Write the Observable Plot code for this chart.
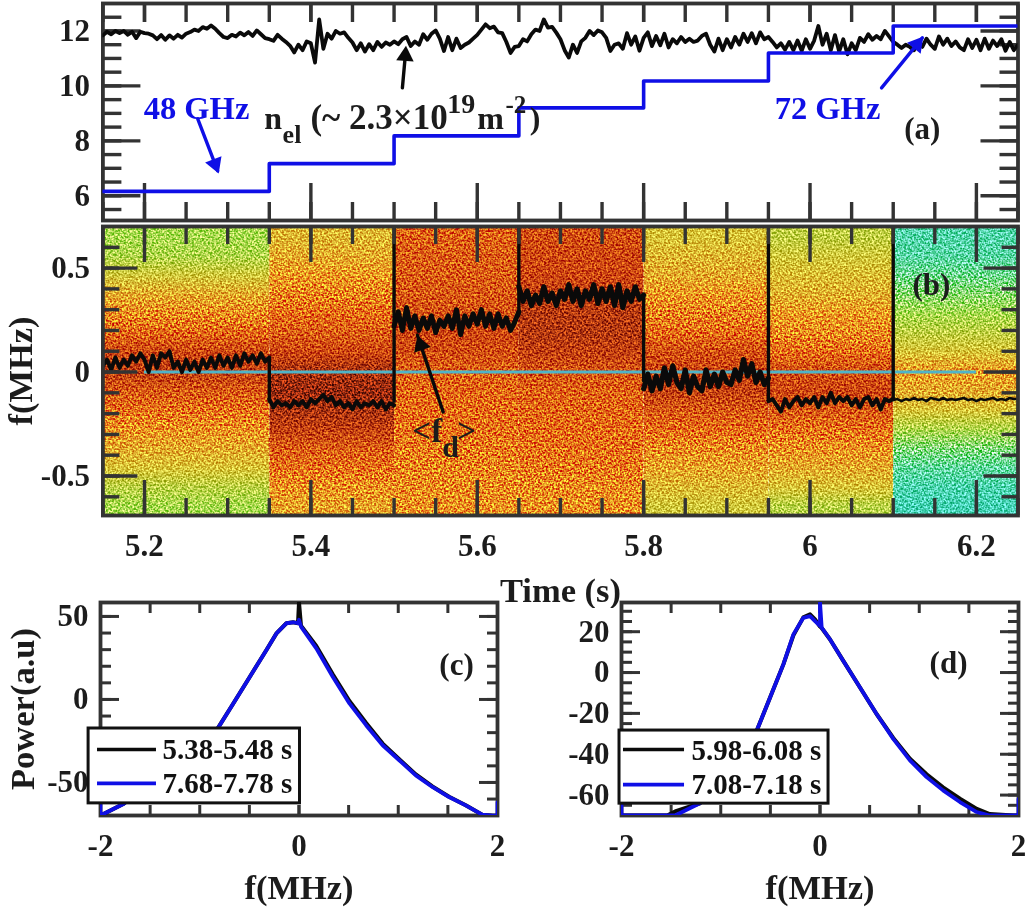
<!DOCTYPE html>
<html>
<head>
<meta charset="utf-8">
<script src="https://cdn.jsdelivr.net/npm/d3@7"></script>
<script src="https://cdn.jsdelivr.net/npm/@observablehq/plot@0.6"></script>
<style>
html,body{margin:0;padding:0;background:#fff;overflow:hidden}
#chart{position:relative;width:1025px;height:908px;overflow:hidden}
#chart svg.plot-panel{position:absolute;background:transparent;max-width:none}
</style>
</head>
<body>
<svg width="0" height="0" style="position:absolute">
  <defs>
    <filter id="grain" x="0" y="0" width="100%" height="100%" color-interpolation-filters="sRGB">
      <feTurbulence type="fractalNoise" baseFrequency="0.5" numOctaves="2" seed="7"/>
      <feColorMatrix type="matrix" values="2.2 0 0 0 -0.6  2.2 0 0 0 -0.6  2.2 0 0 0 -0.6  0 0 0 0 1"/>
    </filter>
  </defs>
</svg>
<div id="chart"></div>
<script>
const FONT = "'Liberation Serif','Times New Roman',serif";
const INK = "#333333", TEXT = "#1c1c1c", BLUE = "#0f0fe6", BLACK = "#0a0a0a";

// ---------- panel (a) ----------
const neStart = 5.15, neStep = 0.005;
const neValues = [
11.84,11.97,11.88,12.0,11.92,12.0,11.86,11.97,11.74,11.97,
11.92,11.9,11.84,11.7,11.85,11.68,11.84,11.72,11.86,11.76,
11.9,11.96,12.05,12.0,12.14,12.08,12.2,12.08,11.92,11.78,
11.74,11.86,11.8,11.94,11.84,11.96,11.82,12.02,11.88,11.74,
11.7,11.64,11.86,11.72,11.6,11.46,11.22,11.5,11.3,11.62,
11.55,10.85,12.42,11.35,11.9,11.72,12.0,11.9,11.95,11.75,
11.58,11.3,11.55,11.25,11.52,11.3,11.6,11.42,11.58,11.5,
11.62,11.52,11.7,11.78,11.45,11.62,11.5,11.88,11.68,11.9,
12.02,11.72,11.27,11.78,11.3,11.72,11.38,11.5,11.58,11.72,
11.86,12.05,12.24,12.1,12.16,11.95,11.92,11.6,11.2,11.42,
11.45,11.7,11.62,11.88,12.05,12.0,12.42,12.12,12.15,11.94,
11.7,11.3,11.03,11.5,11.2,11.62,11.75,12.0,11.85,12.02,
11.95,11.75,11.27,11.5,11.55,11.35,11.92,11.5,11.8,11.28,
11.75,11.95,11.45,11.82,11.48,11.9,11.4,11.7,11.55,11.78,
11.6,11.72,11.6,11.65,11.82,11.9,11.5,11.25,11.72,11.3,
11.7,11.4,11.78,11.5,11.9,11.6,11.92,11.55,11.95,11.7,
11.78,11.6,11.4,11.55,11.32,11.6,11.3,11.65,11.28,11.7,
11.35,11.65,12.18,11.5,11.9,11.3,11.85,11.25,11.7,11.15,
11.55,11.3,11.75,11.6,11.88,11.68,11.82,11.7,12.0,11.8,
11.6,11.5,11.38,11.5,11.42,11.3,11.6,11.42,11.72,11.5,
11.35,11.8,11.5,11.72,11.45,11.62,11.4,11.3,11.7,11.38,
11.68,11.3,11.72,11.35,11.65,11.45,11.7,11.28,11.6,11.3,11.5
];
const stepTimes = [5.15,5.35,5.5,5.65,5.8,5.95,6.1,6.25];
const stepValues = [6.16,7.17,8.18,9.2,10.18,11.2,12.18,12.18];

const neRows = neValues.map((v,i)=>({t:neStart+i*neStep,v}));
const stepRows = stepTimes.map((t,i)=>({t,v:stepValues[i]}));

// ---------- panel (b) ----------
const specRows = 15;
const specWindows = [[5.15,5.35],[5.35,5.5],[5.5,5.65],[5.65,5.8],[5.8,5.95],[5.95,6.1],[6.1,6.25]];
const specSeg1 = [.30,.32,.40,.50,.60,.72,.85,.88,.78,.68,.58,.50,.42,.35,.30];
const specSeg2 = [.46,.50,.55,.62,.70,.76,.85,.95,1,.95,.88,.76,.68,.58,.52];
const specSeg3 = [.74,.76,.76,.78,.80,.85,.82,.75,.72,.70,.68,.65,.62,.60,.58];
const specSeg4 = [.82,.84,.85,.88,.92,.92,.88,.80,.74,.72,.70,.68,.65,.60,.58];
const specSeg5 = [.42,.46,.50,.56,.63,.70,.82,.85,.88,.78,.70,.60,.52,.45,.40];
const specSeg6 = [.36,.40,.44,.48,.55,.60,.70,.82,.85,.78,.68,.58,.50,.42,.34];
const specSeg7 = [.10,.12,.18,.24,.30,.36,.42,.55,.50,.42,.32,.22,.15,.08,.05];
const specSegs = [specSeg1,specSeg2,specSeg3,specSeg4,specSeg5,specSeg6,specSeg7];
const specLevels = [0,.15,.3,.42,.55,.7,.85,1];
const specColors = ["#38cfc0","#62d8a0","#a8da50","#d8c438","#ea9a24","#e46c18","#cc4612","#952a10"];

const fdStep = 0.005;
const fdSeg1 = [.03,.06,.01,.07,.02,.06,.03,.08,.05,.09,.06,.00,.08,.02,.09,.07,.1,.02,.05,.0,.06,.01,.05,.0,.06,.02,.07,.02,.08,.03,.07,.02,.08,.03,.09,.05,.08,.04,.09,.05,.07];
const fdSeg2 = [-.13,-.17,-.14,-.16,-.15,-.17,-.14,-.16,-.14,-.17,-.13,-.15,-.13,-.11,-.14,-.12,-.16,-.14,-.17,-.15,-.18,-.14,-.17,-.15,-.16,-.14,-.17,-.14,-.18,-.15,-.16];
const fdSeg3 = [.22,.29,.2,.31,.21,.27,.2,.26,.21,.27,.19,.25,.22,.27,.21,.3,.18,.27,.22,.28,.23,.3,.22,.28,.21,.28,.22,.26,.2,.24,.29];
const fdSeg4 = [.41,.34,.39,.32,.37,.33,.41,.34,.38,.32,.39,.35,.42,.34,.4,.32,.39,.35,.42,.33,.4,.34,.41,.32,.42,.31,.39,.34,.41,.35,.37];
const fdSeg5 = [-.08,-.01,-.09,-.02,-.08,.02,-.06,.03,-.05,-.08,.01,-.1,-.02,-.07,-.09,.01,-.07,-.01,-.07,.0,-.05,-.06,.01,-.04,.06,-.02,.04,-.05,.0,-.06,-.03];
const fdSeg6 = [-.14,-.13,-.16,-.19,-.13,-.17,-.14,-.12,-.16,-.13,-.15,-.12,-.17,-.12,-.15,-.1,-.15,-.12,-.14,-.12,-.16,-.13,-.17,-.13,-.12,-.16,-.13,-.18,-.13,-.14,-.13];
const fdSeg7 = [-.135,-.13,-.14,-.13,-.135,-.125,-.135,-.13,-.14,-.125,-.13,-.135,-.125,-.135,-.13,-.135,-.13,-.125,-.135,-.13,-.14,-.13,-.135,-.13,-.125,-.135,-.13,-.135,-.125,-.13,-.13];
const fdSegs = [fdSeg1,fdSeg2,fdSeg3,fdSeg4,fdSeg5,fdSeg6,fdSeg7];
const fdWidths = [4,4,5,5.2,5.2,4,2.6];
const jumpTimes = [5.35,5.5,5.65,5.8,5.95,6.1];
const jumpFrom = [-.15,-.15,.27,-.05,-.14,-.13];
const jumpTo = [.07,.7,.7,.37,.7,.7];
const jumpRows = jumpTimes.map((t,i)=>({t,from:jumpFrom[i],to:jumpTo[i]}));
const zeroLine = [{t1:5.2,t2:6.2,f:0}];

// ---------- panels (c) and (d) ----------
const cF = [-2,-2,-1.97,-1.766,-1.33,-.83,-.662,-.495,-.328,-.227,-.127,-.06,-.01,0,.02,.174,.34,.508,.676,.843,1.01,1.177,1.344,1.512,1.68,1.846,1.95,2,2];
const cBlue = [-62,-70,-69,-62.8,-40.6,-18.5,-2.4,13.7,29.8,39.8,45.9,46.5,45.9,48,43.9,30.8,13.7,-2.4,-15.5,-27.6,-36.6,-45.7,-52.7,-58.8,-63.8,-69.4,-70,-70,-62];
const cBlack = [-70,-70,-69,-62.8,-40.6,-18.5,-2.4,13.7,29.8,39.8,45.9,46.5,45.9,58.4,44.5,32.2,15.2,-.9,-14.2,-26.6,-36,-45.2,-52.4,-58.6,-63.7,-69.4,-70,-70,-70];
const dF = [-2,-2,-1.54,-1.46,-1.21,-.638,-.503,-.369,-.268,-.168,-.1,-.05,0,0,.017,.1,.235,.403,.57,.738,.906,1.074,1.24,1.41,1.58,1.71,1.95,2,2];
const dBlue = [-62,-70,-70,-70,-64,-28.5,-12.2,4,18.7,26.8,27.6,25.2,22.8,34.3,22,16.3,5.7,-7.3,-20.3,-32.5,-43,-51.2,-57.7,-63.4,-68.3,-70,-70,-70,-62];
const dBlack = [-70,-70,-70,-68,-64,-28.5,-12.2,4,18.2,27,28.5,26,22.5,22.5,21.8,16.3,5.7,-7.3,-20.3,-32,-42.2,-49.8,-56.2,-61.8,-66.8,-69.3,-70,-70,-70];
const rows = (xs,ys)=>xs.map((f,i)=>({f,p:ys[i]}));

// ---------- shared helpers ----------
const seq = (a,b,s)=>d3.range(Math.round((b-a)/s)+1).map(i=>+(a+i*s).toFixed(4));
const fmt = d=>String(d);

function frameAxes(o){
  const sw=o.tickWidth;
  const tick=(axis,anchor,values,len)=>axis({anchor,ticks:values,tickSize:-len,tickPadding:len,tickFormat:()=>"",label:null,stroke:INK,strokeWidth:sw});
  return [
    tick(Plot.axisY,"left",o.yMinor,o.yMinorLen), tick(Plot.axisY,"right",o.yMinor,o.yMinorLen),
    tick(Plot.axisY,"left",o.yMajor,o.yMajorLen), tick(Plot.axisY,"right",o.yMajor,o.yMajorLen),
    tick(Plot.axisX,"bottom",o.xMinor,o.xMinorLen), tick(Plot.axisX,"top",o.xMinor,o.xMinorLen),
    tick(Plot.axisX,"bottom",o.xMajor,o.xMajorLen), tick(Plot.axisX,"top",o.xMajor,o.xTopMajorLen ?? o.xMajorLen),
    Plot.frame({stroke:INK,strokeWidth:3.8})
  ];
}
function tickText(o){
  return [
    Plot.axisY({anchor:"left",ticks:o.yMajor,tickSize:0,tickPadding:o.yPad,tickFormat:fmt,fontSize:o.fontSize,fill:TEXT,label:null}),
    o.xLabels?Plot.axisX({anchor:"bottom",ticks:o.xMajor,tickSize:0,tickPadding:o.xPad,tickFormat:fmt,fontSize:o.fontSize,fill:TEXT,label:null}):null,
    o.yTitle?Plot.text([o.yTitle],{frameAnchor:"left",textAnchor:"middle",lineAnchor:"middle",rotate:-90,dx:o.yTitleDx,fontSize:34.5,fill:TEXT}):null,
    o.xTitle?Plot.text([o.xTitle],{frameAnchor:"bottom",textAnchor:"middle",lineAnchor:"middle",dy:o.xTitleDy,fontSize:34.5,fill:TEXT}):null
  ];
}
function panel(pos,spec){
  const svg=Plot.plot({
    width:pos.width,height:pos.height,
    marginLeft:pos.ml,marginRight:pos.mr,marginTop:pos.mt,marginBottom:pos.mb,
    x:{domain:spec.x,axis:null},y:{domain:spec.y,axis:null},
    color:spec.color,
    style:{fontFamily:FONT,fontWeight:"bold",fontSize:"28px",color:INK,background:"transparent"},
    marks:spec.marks
  });
  svg.classList.add("plot-panel");
  svg.style.left=pos.left+"px";svg.style.top=pos.top+"px";
  document.getElementById("chart").appendChild(svg);
}
const label=(text,x,y,opts={})=>Plot.text([{text,x,y}],{x:"x",y:"y",text:"text",lineAnchor:"bottom",textAnchor:"start",fontSize:32,fill:TEXT,...opts});
// shaft plus a solid head, turned by the arrow's on-screen bearing in degrees
const arrow=(x1,y1,x2,y2,stroke,bearing)=>[
  Plot.arrow([{x1,y1,x2,y2}],{x1:"x1",y1:"y1",x2:"x2",y2:"y2",stroke,strokeWidth:3.4,headLength:0,bend:0}),
  Plot.dot([{x:x2-(x2-x1)*.13,y:y2-(y2-y1)*.13}],{x:"x",y:"y",symbol:"triangle",r:6.5,fill:stroke,stroke:"none",rotate:bearing})
];

// ---------- (a) ----------
const axesA={yMinor:seq(5.5,12.5,.5),yMajor:[6,8,10,12],xMinor:seq(5.15,6.25,.05),xMajor:seq(5.2,6.2,.2),
  yMinorLen:19,yMajorLen:38,xMinorLen:18,xMajorLen:37,xTopMajorLen:18,tickWidth:3.4};
panel({left:0,top:0,width:1025,height:225,ml:102.4,mr:7.5,mt:3,mb:5},{x:[5.15,6.25],y:[5.1,13],marks:[
  ...frameAxes(axesA),
  ...tickText({...axesA,yPad:13,fontSize:31}),
  Plot.line(neRows,{x:"t",y:"v",stroke:BLACK,strokeWidth:3.8,clip:true}),
  Plot.line(stepRows,{x:"t",y:"v",stroke:BLUE,strokeWidth:3.6,curve:"step-after",clip:true}),
  label("48 GHz",5.2625,8.8,{fill:BLUE,textAnchor:"middle",fontSize:32.5}),
  label("72 GHz",6.021,8.8,{fill:BLUE,textAnchor:"middle",fontSize:32.5}),
  ...arrow(5.264,8.8,5.288,6.91,BLUE,159),
  ...arrow(6.086,9.93,6.135,11.75,BLUE,39),
  ...arrow(5.51,9.93,5.514,11.27,BLACK,4),
  label("n",5.344,8.44),
  label("el",5.366,7.93,{fontSize:26}),
  label("(~ 2.3×10",5.3995,8.44,{fontSize:35}),
  label("19",5.564,9.02,{fontSize:28}),
  label("m",5.6,8.44),
  label("-2",5.634,9.02,{fontSize:25}),
  label(")",5.663,8.44),
  label("(a)",6.135,8.07,{textAnchor:"middle",fontSize:31})
]});

// ---------- (b) ----------
const axesB={yMinor:seq(-.6,.6,.1),yMajor:[-.5,0,.5],xMinor:seq(5.15,6.25,.05),xMajor:seq(5.2,6.2,.2),
  yMinorLen:17,yMajorLen:35,xMinorLen:17,xMajorLen:35,tickWidth:3.4};
panel({left:0,top:222,width:1025,height:386,ml:102.4,mr:7.5,mt:4,mb:93},{x:[5.15,6.25],y:[-.69,.7],
  color:{type:"linear",domain:specLevels,range:specColors,clamp:true},
  marks:[
  ...specSegs.map((seg,k)=>Plot.raster(seg,{width:1,height:specRows,x1:specWindows[k][0],x2:specWindows[k][1],y1:.7,y2:-.69})),
  Plot.frame({fill:"white",mixBlendMode:"overlay",fillOpacity:.22,render(i,s,v,d,c,next){const g=next(i,s,v,d,c);g.setAttribute("filter","url(#grain)");return g;}}),
  Plot.ruleY(zeroLine,{x1:"t1",x2:"t2",y:"f",stroke:"#4fb4c8",strokeWidth:3}),
  ...fdSegs.map((seg,k)=>Plot.line(seg.map((f,i)=>({t:specWindows[k][0]+i*fdStep,f})),{x:"t",y:"f",stroke:BLACK,strokeWidth:fdWidths[k],clip:true})),
  Plot.ruleX(jumpRows,{x:"t",y1:"from",y2:"to",stroke:BLACK,strokeWidth:3.4}),
  ...frameAxes(axesB),
  ...tickText({...axesB,xLabels:true,yPad:13,xPad:18,fontSize:31,yTitle:"f(MHz)",yTitleDx:-82,xTitle:"Time (s)",xTitleDy:75}),
  ...arrow(5.559,-.192,5.528,.178,BLACK,-19),
  label("<f",5.522,-.337,{fontSize:33}),
  label("d",5.558,-.409,{fontSize:30}),
  label(">",5.576,-.337,{fontSize:33}),
  label("(b)",6.146,.37,{textAnchor:"middle",fontSize:31})
]});

// ---------- (c) ----------
const axesC={yMinor:seq(-60,50,10),yMajor:[-50,0,50],xMinor:seq(-1.5,1.5,.5),xMajor:[-2,0,2],
  yMinorLen:11,yMajorLen:19,xMinorLen:10,xMajorLen:10,tickWidth:3};
function legend(box,lineX,lineY,textX,textY,names){
  return [
    Plot.rect([box],{x1:"x1",x2:"x2",y1:"y1",y2:"y2",fill:"white",stroke:"#111",strokeWidth:3}),
    Plot.ruleY([{y:lineY[0],a:lineX[0],b:lineX[1]}],{y:"y",x1:"a",x2:"b",stroke:BLACK,strokeWidth:3.6}),
    Plot.ruleY([{y:lineY[1],a:lineX[0],b:lineX[1]}],{y:"y",x1:"a",x2:"b",stroke:BLUE,strokeWidth:3.8}),
    label(names[0],textX,textY[0],{fontSize:29,fill:"#111"}),
    label(names[1],textX,textY[1],{fontSize:29,fill:"#111"})
  ];
}
panel({left:0,top:596,width:512,height:312,ml:100,mr:15,mt:6,mb:93},{x:[-2,2],y:[-69.9,58.4],marks:[
  ...frameAxes(axesC),
  ...tickText({...axesC,xLabels:true,yPad:12,xPad:18,fontSize:31,yTitle:"Power(a.u)",yTitleDx:-78,xTitle:"f(MHz)",xTitleDy:72}),
  Plot.line(rows(cF,cBlack),{x:"f",y:"p",stroke:BLACK,strokeWidth:4,clip:true}),
  Plot.line(rows(cF,cBlue),{x:"f",y:"p",stroke:BLUE,strokeWidth:3.8,clip:true}),
  ...legend({x1:-2.12,x2:.01,y1:-17.5,y2:-62.6},[-2.03,-1.436],[-30.1,-50.6],-1.375,[-36.1,-56.6],["5.38-5.48 s","7.68-7.78 s"]),
  label("(c)",1.587,14.5,{textAnchor:"middle",fontSize:31})
]});

// ---------- (d) ----------
const axesD={yMinor:seq(-65,30,5),yMajor:[-60,-40,-20,0,20],xMinor:seq(-1.5,1.5,.5),xMajor:[-2,0,2],
  yMinorLen:11,yMajorLen:19,xMinorLen:10,xMajorLen:10,tickWidth:3};
panel({left:512,top:596,width:513,height:312,ml:109,mr:7,mt:6,mb:93},{x:[-2,2],y:[-70,34.3],marks:[
  ...frameAxes(axesD),
  ...tickText({...axesD,xLabels:true,yPad:12,xPad:18,fontSize:31,xTitle:"f(MHz)",xTitleDy:72}),
  Plot.line(rows(dF,dBlack),{x:"f",y:"p",stroke:BLACK,strokeWidth:4,clip:true}),
  Plot.line(rows(dF,dBlue),{x:"f",y:"p",stroke:BLUE,strokeWidth:3.8,clip:true}),
  ...legend({x1:-2.02,x2:.086,y1:-28.4,y2:-64.2},[-1.98,-1.365],[-37.7,-54.9],-1.295,[-42.6,-59.3],["5.98-6.08 s","7.08-7.18 s"]),
  label("(d)",1.295,0,{textAnchor:"middle",fontSize:31})
]});
</script>
</body>
</html>
